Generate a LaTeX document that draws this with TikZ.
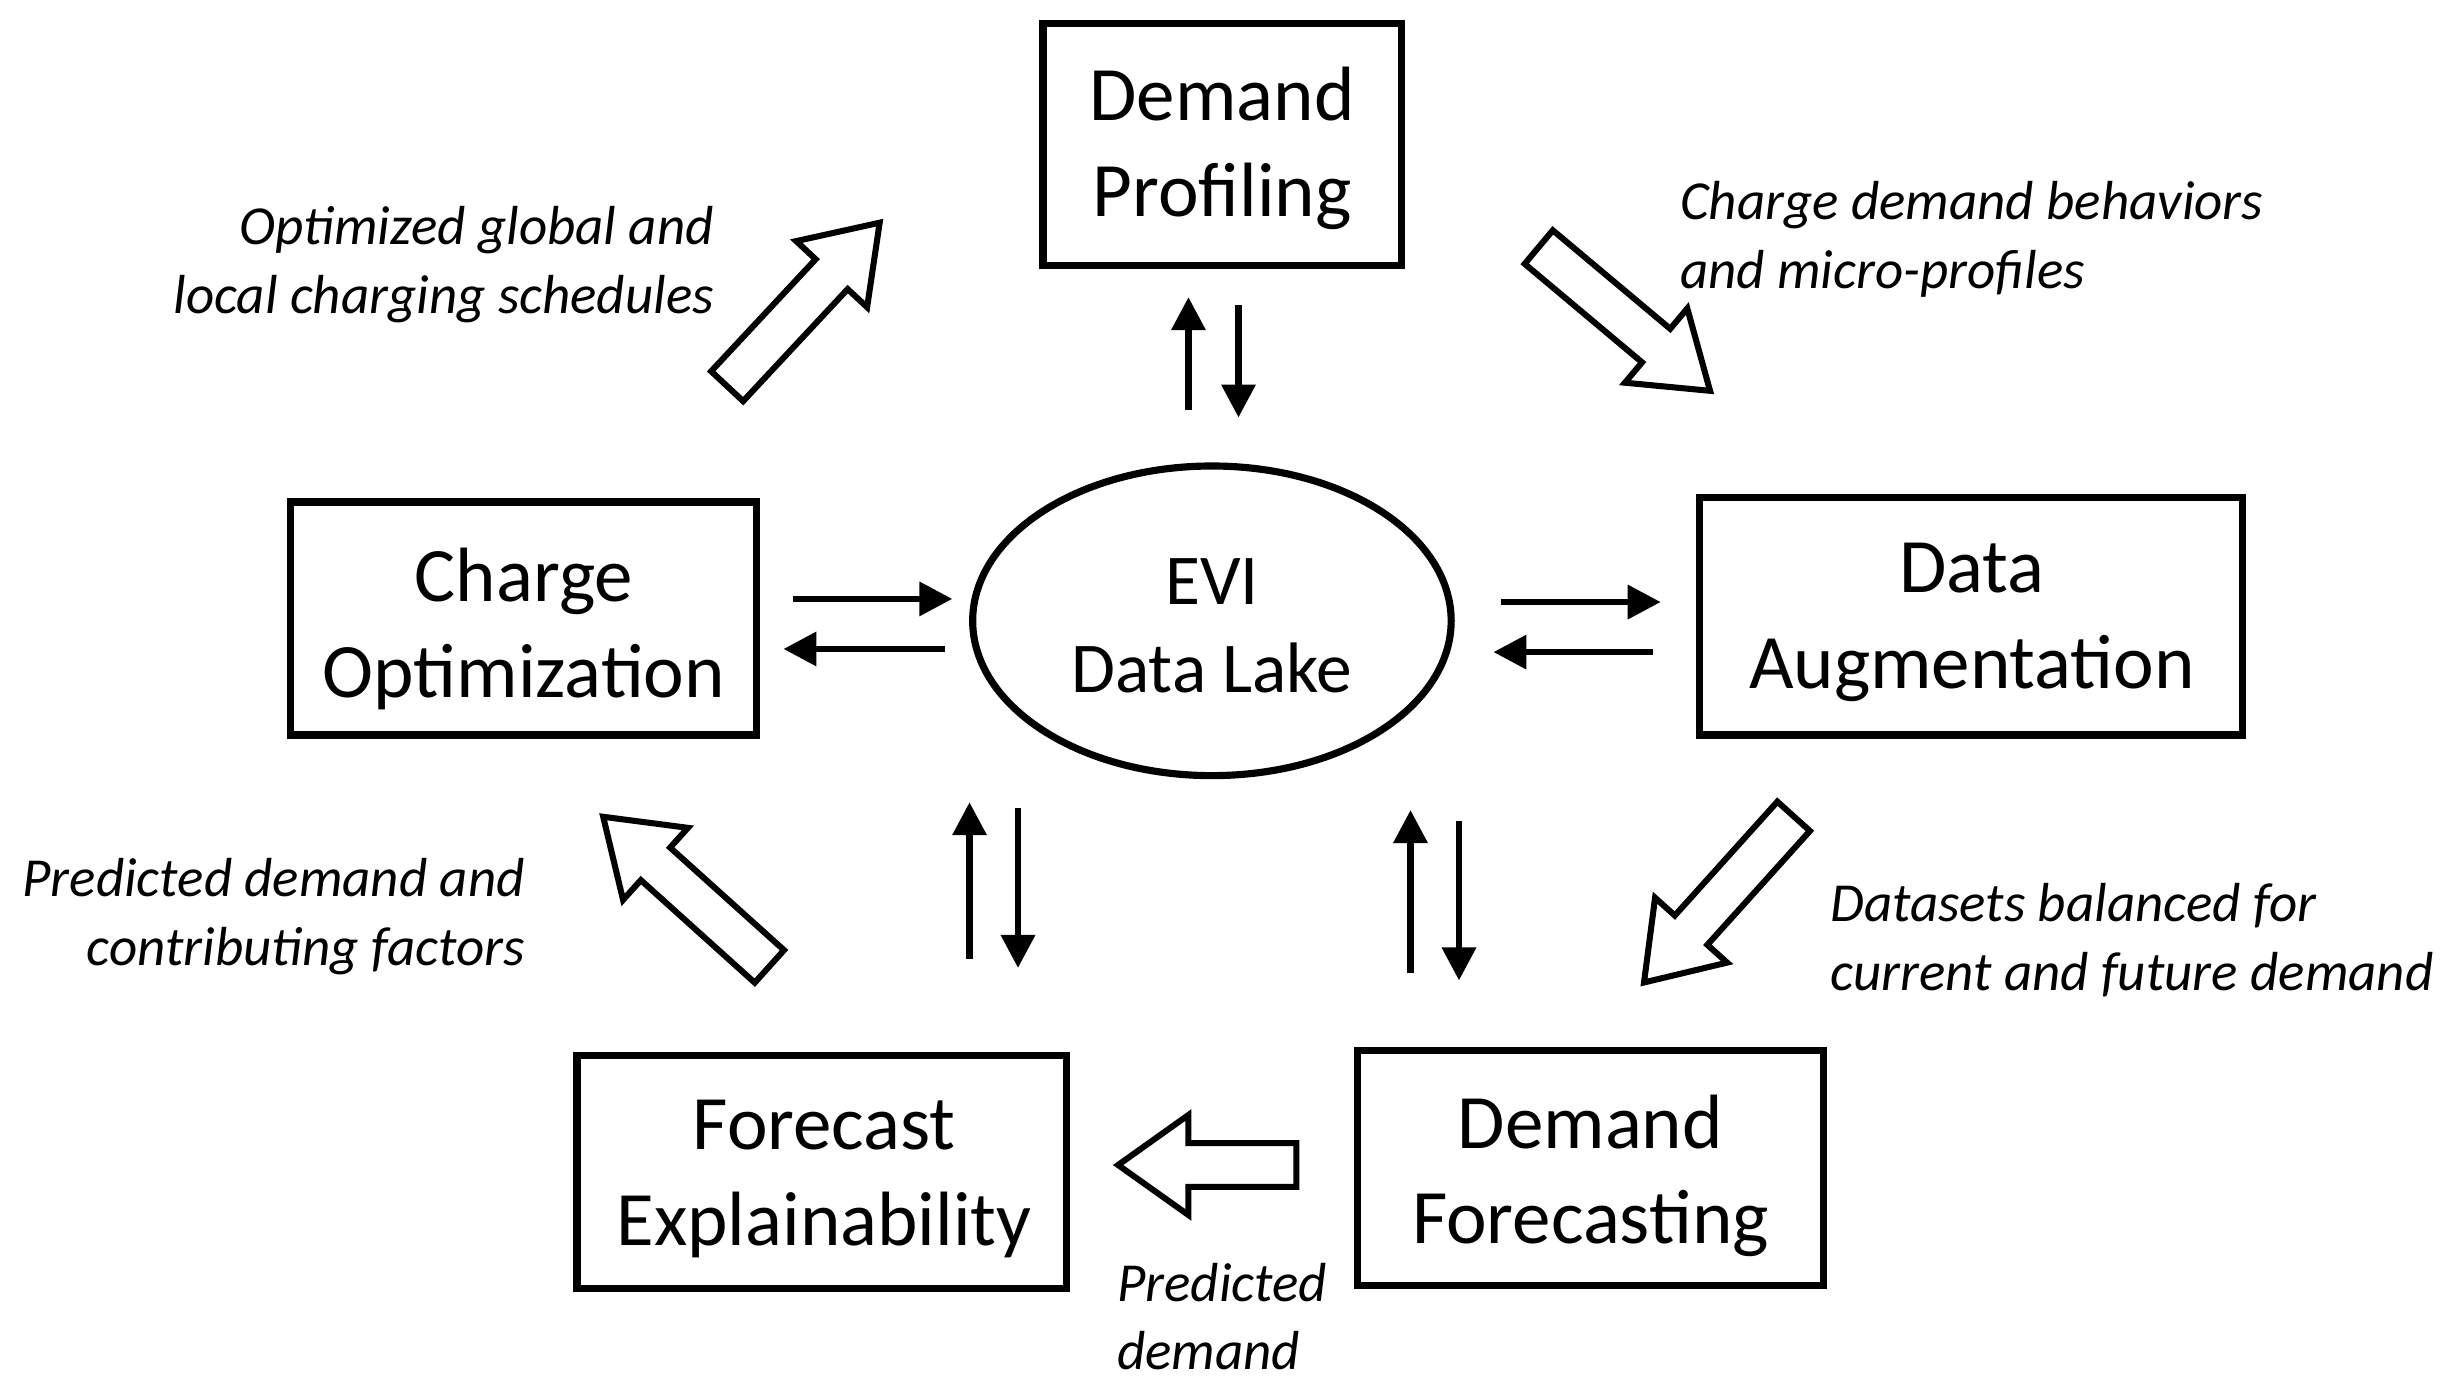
\documentclass[tikz,border=0pt]{standalone}
\usepackage{fontspec}
\setmainfont{Carlito}
\usetikzlibrary{arrows.meta}
\begin{document}
\begin{tikzpicture}[x=0.01cm,y=-0.01cm,
  boxt/.style={font=\fontsize{14}{17.4}\selectfont,align=center},
  lab/.style={font=\fontsize{10}{12.5}\selectfont\itshape},
  sa/.style={line width=1.2pt,-{Triangle[length=6pt,width=6pt]}},
  barrow/.pic={\draw[line width=1.1pt,line join=miter] (0,-14)--(98,-14)--(98,-31)--(143,0)--(98,31)--(98,14)--(0,14)--cycle;}]
\useasboundingbox (0,0) rectangle (1568,891);
\draw[line width=1.3pt] (667,15) rectangle (896,170);
\node[boxt] (dp) at (781.5,95) {Demand\\Profiling};
\draw[line width=1.3pt] (186,321) rectangle (484,470);
\node[boxt] (co) at (335,402) {Charge\\Optimization};
\draw[line width=1.3pt] (1087,318) rectangle (1434,470);
\node[boxt] (da) at (1261,398) {Data\\Augmentation};
\draw[line width=1.3pt] (369,675) rectangle (682,824);
\node[boxt] (fe) at (527,754) {Forecast\\Explainability};
\draw[line width=1.3pt] (868,672) rectangle (1166,822);
\node[boxt] (df) at (1017,752) {Demand\\Forecasting};
\draw[line width=1.3pt] (775,397) ellipse [x radius=153,y radius=99];
\node[font=\fontsize{13}{16}\selectfont,align=center] (evi) at (775,400) {EVI\\Data Lake};
% small arrows
\draw[sa] (760,262)--(760,190);
\draw[sa] (792,195)--(792,267);
\draw[sa] (507,383)--(609,383);
\draw[sa] (604,415)--(501,415);
\draw[sa] (960,385)--(1062,385);
\draw[sa] (1057,417)--(955,417);
\draw[sa] (620,613)--(620,513);
\draw[sa] (651,517)--(651,619);
\draw[sa] (902,622)--(902,518);
\draw[sa] (933,525)--(933,627);
% block arrows
\pic[rotate=47] at (465,247) {barrow};
\pic[rotate=-40] at (984,158) {barrow};
\pic[rotate=-132] at (1147,522) {barrow};
\pic[rotate=138] at (492,618) {barrow};
\draw[line width=1.1pt] (829,731)--(760,731)--(760,713)--(715,745)--(760,777)--(760,759)--(829,759)--cycle;
% labels
\node[lab,align=right,anchor=east] (l1) at (469,169) {Optimized global and\\local charging schedules};
\node[lab,align=left,anchor=west] (l2) at (1062,153) {Charge demand behaviors\\and micro-profiles};
\node[lab,align=left,anchor=west] (l3) at (1158,601) {Datasets balanced for\\current and future demand};
\node[lab,align=right,anchor=east] (l4) at (348,586) {Predicted demand and\\contributing factors};
\node[lab,align=left,anchor=west] (l5) at (702,842) {Predicted\\demand};
\end{tikzpicture}
\end{document}
